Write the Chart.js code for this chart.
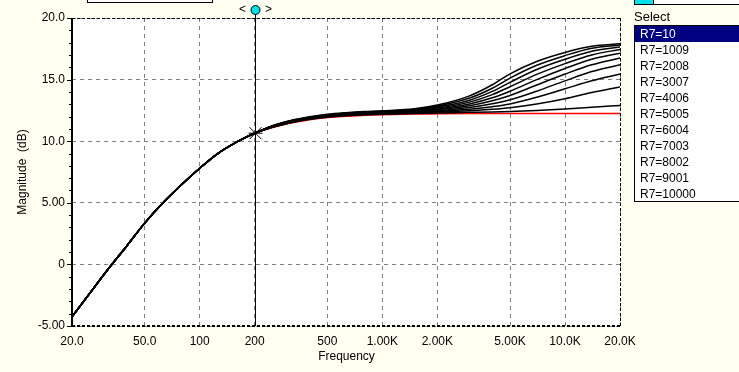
<!DOCTYPE html>
<html>
<head>
<meta charset="utf-8">
<script src="https://cdn.jsdelivr.net/npm/chart.js@4.4.1/dist/chart.umd.min.js"></script>
<style>
  body { margin: 0; background: #fffff2; font-family: "Liberation Sans", Arial, sans-serif; }
  #wrap { position: relative; width: 739px; height: 372px; overflow: hidden; }
  #myChart { position: absolute; left: 0; top: 0; }
  #topBox { position: absolute; left: 87px; top: -20px; width: 124px; height: 21px; border: 1px solid #000; background: #fff; }
  #topRight { position: absolute; left: 634px; top: -10px; width: 120px; height: 13px; border: 1px solid #000; background: #fff; }
  #topRight div { position: absolute; left: 0; top: 0; width: 18px; height: 13px; background: #00e0e8; border-right: 1px solid #000; }
  #selLabel { position: absolute; left: 634px; top: 9px; font-size: 13px; color: #000; }
  #list { position: absolute; left: 634px; top: 25px; width: 120px; height: 175px; border: 1px solid #000; background: #fff; }
  #list div { height: 16px; line-height: 16px; font-size: 12px; padding-left: 5px; color: #000; }
  #list div.sel { background: #000080; color: #fff; }
</style>
</head>
<body>
<div id="wrap">
  <canvas id="myChart" width="739" height="372"></canvas>
  <div id="topBox"></div>
  <div id="topRight"><div></div></div>
  <div id="selLabel">Select</div>
  <div id="list"></div>
</div>
<script>
// ***** DATA *****
const seriesNames = ['R7=10', 'R7=1009', 'R7=2008', 'R7=3007', 'R7=4006', 'R7=5005',
  'R7=6004', 'R7=7003', 'R7=8002', 'R7=9001', 'R7=10000'];

// frequencies shared by all curves (Hz)
const lowFreqs = [20, 25, 31.5, 40, 50, 63, 80, 100, 125, 160, 200];
const highFreqs = [250, 315, 400, 500, 630, 800, 1000, 1500, 2000, 3000, 4000, 5000, 7000, 10000, 14000, 20000];

// magnitude (dB) up to 200 Hz, all curves overlap here
const lowDb = [-4.25, -2.35, -0.40, 1.52, 3.35, 5.00, 6.50, 7.80, 8.98, 9.95, 10.65];

// magnitude (dB) from 250 Hz up, one row per R7 value
const highDb = [
  [11.10, 11.48, 11.75, 11.92, 12.03, 12.10, 12.15, 12.20, 12.22, 12.24, 12.25, 12.25, 12.25, 12.25, 12.25, 12.25],
  [11.12, 11.50, 11.78, 11.95, 12.06, 12.14, 12.19, 12.25, 12.29, 12.34, 12.38, 12.42, 12.50, 12.62, 12.76, 12.90],
  [11.14, 11.52, 11.80, 11.98, 12.09, 12.17, 12.22, 12.30, 12.36, 12.47, 12.59, 12.72, 13.02, 13.45, 13.95, 14.40],
  [11.15, 11.54, 11.82, 12.00, 12.12, 12.20, 12.26, 12.34, 12.42, 12.60, 12.80, 13.02, 13.56, 14.25, 14.90, 15.45],
  [11.17, 11.56, 11.84, 12.03, 12.15, 12.23, 12.29, 12.38, 12.48, 12.74, 13.04, 13.36, 14.06, 14.90, 15.65, 16.20],
  [11.18, 11.58, 11.86, 12.05, 12.17, 12.26, 12.32, 12.42, 12.55, 12.88, 13.28, 13.71, 14.56, 15.45, 16.20, 16.75],
  [11.20, 11.60, 11.88, 12.07, 12.20, 12.29, 12.35, 12.46, 12.62, 13.02, 13.52, 14.06, 15.00, 15.90, 16.65, 17.15],
  [11.21, 11.62, 11.90, 12.10, 12.22, 12.32, 12.38, 12.50, 12.69, 13.17, 13.78, 14.42, 15.42, 16.30, 17.00, 17.45],
  [11.23, 11.64, 11.93, 12.12, 12.25, 12.35, 12.41, 12.54, 12.77, 13.33, 14.04, 14.78, 15.82, 16.65, 17.30, 17.65],
  [11.24, 11.66, 11.95, 12.15, 12.28, 12.38, 12.44, 12.58, 12.85, 13.50, 14.30, 15.12, 16.16, 16.95, 17.55, 17.80],
  [11.26, 11.68, 11.98, 12.18, 12.31, 12.41, 12.47, 12.63, 12.93, 13.68, 14.58, 15.47, 16.47, 17.20, 17.70, 17.90]
];

const xTicks = [20, 50, 100, 200, 500, 1000, 2000, 5000, 10000, 20000];
const xTickLabels = ['20.0', '50.0', '100', '200', '500', '1.00K', '2.00K', '5.00K', '10.0K', '20.0K'];
const yTicks = [-5, 0, 5, 10, 15, 20];
const yTickLabels = ['-5.00', '0', '5.00', '10.0', '15.0', '20.0'];

const cursorFreq = 200;
const cursorDb = 10.65;

// ***** LEGEND LIST *****
let list = document.getElementById('list');
for (let i = 0; i < seriesNames.length; i++) {
  let row = document.createElement('div');
  row.textContent = seriesNames[i];
  if (i === 0) row.className = 'sel';
  list.appendChild(row);
}

// ***** DATASETS *****
let datasets = [];
for (let i = 0; i < seriesNames.length; i++) {
  let pts = [];
  for (let j = 0; j < lowFreqs.length; j++) pts.push({ x: lowFreqs[j], y: lowDb[j] });
  for (let j = 0; j < highFreqs.length; j++) pts.push({ x: highFreqs[j], y: highDb[i][j] });
  datasets.push({
    label: seriesNames[i],
    data: pts,
    borderColor: i === 0 ? '#ff0000' : '#000000',
    borderWidth: 1.5,
    pointRadius: 0,
    cubicInterpolationMode: 'monotone',
    order: i === 0 ? 1 : 0
  });
}

// ***** PLUGINS *****
const plotDecor = {
  id: 'plotDecor',
  beforeDraw(chart) {
    const c = chart.ctx, a = chart.chartArea;
    c.save();
    c.fillStyle = '#ffffff';
    c.fillRect(a.left, a.top, a.right - a.left, a.bottom - a.top);
    c.restore();
  },
  afterDraw(chart) {
    const c = chart.ctx, a = chart.chartArea;
    const xs = chart.scales.x, ys = chart.scales.y;
    c.save();
    // dashed top / right / bottom frame
    c.strokeStyle = '#000';
    c.lineWidth = 1;
    c.setLineDash([3, 2]);
    c.beginPath();
    c.moveTo(a.left, a.top + 0.5); c.lineTo(a.right, a.top + 0.5);
    c.moveTo(a.right + 0.5, a.top); c.lineTo(a.right + 0.5, a.bottom);
    c.stroke();
    c.lineWidth = 2;
    c.beginPath();
    c.moveTo(a.left, a.bottom); c.lineTo(a.right, a.bottom);
    c.stroke();
    c.setLineDash([]);
    // thick left axis + tick marks
    c.lineWidth = 2;
    c.beginPath();
    c.moveTo(a.left, a.top); c.lineTo(a.left, a.bottom + 1);
    c.stroke();
    c.lineWidth = 1;
    c.beginPath();
    for (let v = -5; v <= 20; v++) {
      let py = Math.round(ys.getPixelForValue(v)) + 0.5;
      let len = (v % 5 === 0) ? 5 : 3;
      c.moveTo(a.left - len, py); c.lineTo(a.left, py);
    }
    c.stroke();
    // cursor line
    let cx = Math.round(xs.getPixelForValue(cursorFreq)) + 0.5;
    c.beginPath();
    c.moveTo(cx, 14); c.lineTo(cx, a.bottom);
    c.stroke();
    c.fillStyle = '#00e0e8';
    c.beginPath();
    c.arc(cx, 10, 4.5, 0, Math.PI * 2);
    c.fill();
    c.stroke();
    c.fillStyle = '#000';
    c.font = '12px "Liberation Sans", Arial, sans-serif';
    c.textAlign = 'center';
    c.textBaseline = 'middle';
    c.fillText('<', cx - 13, 10);
    c.fillText('>', cx + 13, 10);
    // marker where cursor meets curve
    let my = ys.getPixelForValue(cursorDb);
    c.beginPath();
    c.moveTo(cx - 6, my - 6); c.lineTo(cx + 6, my + 6);
    c.moveTo(cx - 6, my + 6); c.lineTo(cx + 6, my - 6);
    c.moveTo(cx - 7, my); c.lineTo(cx + 7, my);
    c.stroke();
    // axis titles
    c.fillText('Frequency', (a.left + a.right) / 2 + 0.5, 357);
    c.translate(23, (a.top + a.bottom) / 2);
    c.rotate(-Math.PI / 2);
    c.fillText('Magnitude  (dB)', 0, 0);
    c.restore();
  }
};

// ***** CHART *****
const ctx = document.getElementById('myChart').getContext('2d');
Chart.defaults.font.family = '"Liberation Sans", Arial, sans-serif';
Chart.defaults.font.size = 12;
Chart.defaults.color = '#000';

new Chart(ctx, {
  type: 'line',
  data: { datasets: datasets },
  options: {
    responsive: false,
    animation: false,
    layout: { padding: { left: 0, right: 119, top: 18, bottom: 0 } },
    plugins: { legend: { display: false }, tooltip: { enabled: false } },
    scales: {
      x: {
        type: 'logarithmic',
        min: 20,
        max: 20000,
        afterBuildTicks: (scale) => { scale.ticks = xTicks.map(v => ({ value: v })); },
        afterFit: (scale) => { scale.height = 46; },
        ticks: {
          autoSkip: false,
          maxRotation: 0,
          padding: 8,
          callback: (val, i) => xTickLabels[i]
        },
        grid: { color: '#808080', lineWidth: 1, drawTicks: false },
        border: { display: false, dash: [4, 4] }
      },
      y: {
        min: -5,
        max: 20,
        afterBuildTicks: (scale) => { scale.ticks = yTicks.map(v => ({ value: v })); },
        afterFit: (scale) => { scale.width = 72; },
        ticks: {
          padding: 7,
          callback: (val, i) => yTickLabels[i]
        },
        grid: { color: '#808080', lineWidth: 1, drawTicks: false },
        border: { display: false, dash: [4, 4] }
      }
    }
  },
  plugins: [plotDecor]
});
</script>
</body>
</html>
